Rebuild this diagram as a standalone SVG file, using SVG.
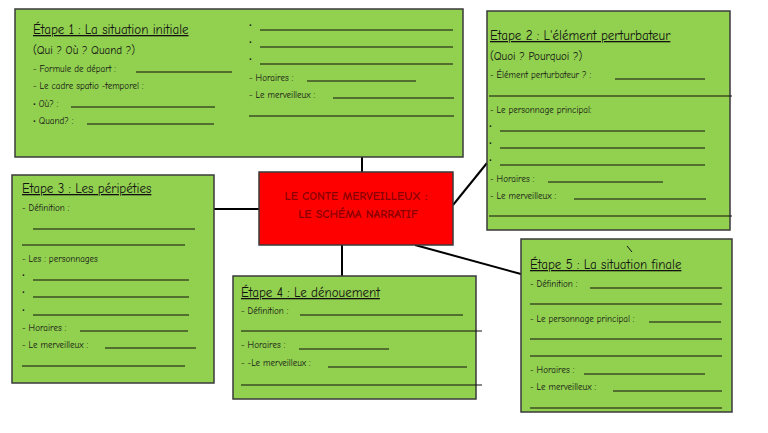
<svg xmlns="http://www.w3.org/2000/svg" width="768" height="433" viewBox="0 0 768 433">
<style>
.box{fill:#92d050;stroke:#3a3a3a;stroke-width:1.5}
text{font-family:"Comic Neue","Liberation Sans",sans-serif;fill:#111}
.t{font-size:13px;text-decoration:underline}
.q{font-size:11px}
.s{font-size:9px}
.bl{stroke:#111;stroke-width:1}
.c{stroke:#000;stroke-width:2;fill:none}
</style>
<rect width="768" height="433" fill="#fff"/>
<g id="connectors">
<line class="c" x1="362" y1="157" x2="362" y2="172"/>
<line class="c" x1="214" y1="209" x2="259" y2="209"/>
<line class="c" x1="453" y1="205" x2="487" y2="163"/>
<line class="c" x1="342" y1="245" x2="342" y2="276"/>
<line class="c" x1="415" y1="245" x2="521" y2="274"/>
</g>
<g id="center">
<rect x="259" y="172" width="194" height="73" fill="#ff0000" stroke="#3a3a3a" stroke-width="1.5"/>
<text x="356" y="200" text-anchor="middle" font-size="12" font-weight="bold" style="fill:#8b0000">LE CONTE MERVEILLEUX :</text>
<text x="358" y="218" text-anchor="middle" font-size="12" font-weight="bold" style="fill:#8b0000">LE SCHÉMA NARRATIF</text>
</g>
<g id="etape1">
<rect class="box" x="15" y="9" width="448" height="148"/>
<text class="t" x="33" y="34">Étape 1 : La situation initiale</text>
<text class="q" x="33" y="54">(Qui ? Où ? Quand ?)</text>
<text class="s" x="33" y="72">-   Formule de départ :</text>
<line class="bl" x1="136" y1="72" x2="232" y2="72"/>
<text class="s" x="33" y="89">-   Le cadre spatio -temporel :</text>
<text class="s" x="33" y="107">•   Où? :</text>
<line class="bl" x1="71" y1="107" x2="215" y2="107"/>
<text class="s" x="33" y="124">•   Quand? :</text>
<line class="bl" x1="87" y1="124" x2="214" y2="124"/>
<text class="s" x="249" y="28">•</text>
<line class="bl" x1="260" y1="30" x2="453" y2="30"/>
<text class="s" x="249" y="45">•</text>
<line class="bl" x1="260" y1="47" x2="453" y2="47"/>
<text class="s" x="249" y="62">•</text>
<line class="bl" x1="260" y1="64" x2="453" y2="64"/>
<text class="s" x="249" y="81">-   Horaires :</text>
<line class="bl" x1="307" y1="81" x2="416" y2="81"/>
<text class="s" x="249" y="98">-   Le merveilleux :</text>
<line class="bl" x1="333" y1="98" x2="454" y2="98"/>
<line class="bl" x1="249" y1="116" x2="454" y2="116"/>
</g>
<g id="etape2">
<rect class="box" x="487" y="11" width="243" height="219"/>
<text class="t" x="490" y="40">Etape 2 : L'élément perturbateur</text>
<text class="q" x="490" y="60">(Quoi ? Pourquoi ?)</text>
<text class="s" x="490" y="78">-   Élément perturbateur ? :</text>
<line class="bl" x1="615" y1="79" x2="705" y2="79"/>
<line class="bl" x1="489" y1="96" x2="732" y2="96"/>
<text class="s" x="490" y="113">-   Le personnage principal:</text>
<text class="s" x="489" y="129">•</text>
<line class="bl" x1="500" y1="131" x2="705" y2="131"/>
<text class="s" x="489" y="146">•</text>
<line class="bl" x1="500" y1="148" x2="705" y2="148"/>
<text class="s" x="489" y="163">•</text>
<line class="bl" x1="500" y1="165" x2="705" y2="165"/>
<text class="s" x="490" y="182">-   Horaires :</text>
<line class="bl" x1="548" y1="182" x2="663" y2="182"/>
<text class="s" x="490" y="199">-   Le merveilleux :</text>
<line class="bl" x1="574" y1="199" x2="706" y2="199"/>
<line class="bl" x1="489" y1="216" x2="732" y2="216"/>
</g>
<g id="etape3">
<rect class="box" x="12" y="175" width="202" height="208"/>
<text class="t" x="22" y="193">Etape 3 : Les péripéties</text>
<text class="s" x="22" y="211">-   Définition :</text>
<line class="bl" x1="33" y1="229" x2="195" y2="229"/>
<line class="bl" x1="22" y1="245" x2="185" y2="245"/>
<text class="s" x="22" y="262">-   Les : personnages</text>
<text class="s" x="22" y="278">•</text>
<line class="bl" x1="33" y1="280" x2="189" y2="280"/>
<text class="s" x="22" y="295">•</text>
<line class="bl" x1="33" y1="297" x2="189" y2="297"/>
<text class="s" x="22" y="313">•</text>
<line class="bl" x1="33" y1="315" x2="189" y2="315"/>
<text class="s" x="22" y="331">-   Horaires :</text>
<line class="bl" x1="80" y1="331" x2="188" y2="331"/>
<text class="s" x="22" y="348">-   Le merveilleux :</text>
<line class="bl" x1="105" y1="348" x2="196" y2="348"/>
<line class="bl" x1="22" y1="366" x2="185" y2="366"/>
</g>
<g id="etape4">
<rect class="box" x="233" y="276" width="243" height="123"/>
<text class="t" x="241" y="297">Étape 4 : Le dénouement</text>
<text class="s" x="241" y="314">- Définition :</text>
<line class="bl" x1="300" y1="315" x2="463" y2="315"/>
<line class="bl" x1="241" y1="331" x2="482" y2="331"/>
<text class="s" x="241" y="348">-   Horaires :</text>
<line class="bl" x1="299" y1="349" x2="389" y2="349"/>
<text class="s" x="241" y="366">-   -Le merveilleux :</text>
<line class="bl" x1="328" y1="367" x2="467" y2="367"/>
<line class="bl" x1="241" y1="385" x2="482" y2="385"/>
</g>
<g id="etape5">
<rect class="box" x="521" y="239" width="211" height="173"/>
<line class="bl" x1="627" y1="246" x2="632" y2="252"/>
<text class="t" x="530" y="269">Étape 5 : La situation finale</text>
<text class="s" x="530" y="287">- Définition :</text>
<line class="bl" x1="590" y1="288" x2="722" y2="288"/>
<line class="bl" x1="530" y1="304" x2="722" y2="304"/>
<text class="s" x="530" y="322">- Le personnage principal :</text>
<line class="bl" x1="649" y1="322" x2="721" y2="322"/>
<line class="bl" x1="530" y1="339" x2="722" y2="339"/>
<line class="bl" x1="530" y1="356" x2="722" y2="356"/>
<text class="s" x="530" y="373">- Horaires :</text>
<line class="bl" x1="584" y1="374" x2="705" y2="374"/>
<text class="s" x="530" y="390">-   Le merveilleux :</text>
<line class="bl" x1="613" y1="391" x2="722" y2="391"/>
<line class="bl" x1="530" y1="408" x2="722" y2="408"/>
</g>
</svg>
